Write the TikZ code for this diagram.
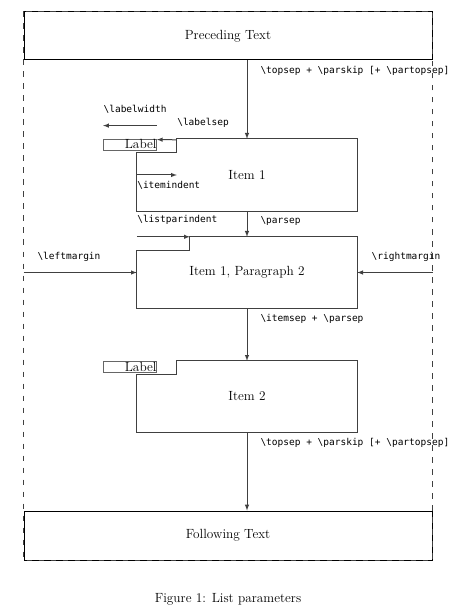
\documentclass[tikz,border=0pt]{standalone}
\usepackage{fontspec}
\setmonofont{DejaVu Sans Mono}
\usetikzlibrary{positioning}

\tikzset{
  txt/.style={font=\fontsize{13.3}{16}\selectfont},
  textbox/.style={txt,draw=black,line width=1pt,minimum width=408pt,inner sep=0pt},
  itembox/.style={txt,minimum width=220pt,minimum height=71pt,inner sep=0pt},
  labelbox/.style={txt,draw=black!60,line width=0.8pt,minimum height=11pt,text width=53pt,
    align=right,inner sep=0pt,text height=9pt,text depth=0pt},
  outline/.style={draw=black!75,line width=1pt},
  arr/.style={->,>=latex,draw=black!75,line width=1pt},
  lbl/.style={font=\fontsize{9.5}{11}\selectfont\ttfamily,inner sep=0pt}
}

\begin{document}
\begin{tikzpicture}[x=1pt,y=-1pt]
  \useasboundingbox (0,0) rectangle (473,609);
  \node[textbox,minimum height=48pt] (prec) at (228,36)    {Preceding Text};
  \node[textbox,minimum height=49pt] (foll) at (228,535.5) {Following Text};
  \node[itembox,minimum height=72pt] (item1) at (247,175) {Item 1};
  \node[itembox] (par2)  at (247,272.5) {Item 1, Paragraph 2};
  \node[itembox] (item2) at (247,396.5) {Item 2};
  \node[labelbox] (lab1) at (130,144.5) {Label};
  \node[labelbox] (lab2) at (130,366.5) {Label};
  \node[txt] (cap) at (228,599) {Figure 1: List parameters};
  % outer frame
  \draw[dashed,dash pattern=on 5.5pt off 6.5pt,draw=black!75,line width=1pt]
    (prec.north west) rectangle (foll.south east);
  % item outlines with label notch
  \coordinate (n1) at ([xshift=40pt]item1.north west);
  \coordinate (n2) at ([xshift=53pt]par2.north west);
  \coordinate (n3) at ([xshift=40pt]item2.north west);
  \draw[outline] (n1) -- (item1.north east) -- (item1.south east) -- (item1.south west)
    -- ([yshift=-14pt]item1.north west) -- ([yshift=-14pt]n1) -- cycle;
  \draw[outline] (n2) -- (par2.north east) -- (par2.south east) -- (par2.south west)
    -- ([yshift=-14pt]par2.north west) -- ([yshift=-14pt]n2) -- cycle;
  \draw[outline] (n3) -- (item2.north east) -- (item2.south east) -- (item2.south west)
    -- ([yshift=-14pt]item2.north west) -- ([yshift=-14pt]n3) -- cycle;
  % vertical spacing
  \draw[arr] (item1.north |- prec.south) -- (item1.north)
    node[lbl,pos=0.133,right=13pt] {\textbackslash topsep + \textbackslash parskip [+ \textbackslash partopsep]};
  \draw[arr] (item1.south) -- (par2.north)
    node[lbl,pos=0.365,right=13pt] {\textbackslash parsep};
  \draw[arr] (par2.south) -- (item2.north)
    node[lbl,pos=0.21,right=13pt] {\textbackslash itemsep + \textbackslash parsep};
  \draw[arr] (item2.south) -- (item2.south |- foll.north)
    node[lbl,pos=0.14,right=13pt] {\textbackslash topsep + \textbackslash parskip [+ \textbackslash partopsep]};
  % horizontal spacing
  \draw[arr] (prec.west |- par2.west) -- (par2.west)
    node[lbl,pos=0,anchor=west,xshift=13.5pt,yshift=15.5pt] {\textbackslash leftmargin};
  \draw[arr] (prec.east |- par2.east) -- (par2.east)
    node[lbl,pos=1,anchor=west,xshift=14pt,yshift=15.5pt] {\textbackslash rightmargin};
  \draw[arr] ([yshift=13pt]lab1.north east) -- ([yshift=13pt]lab1.north west)
    node[lbl,pos=1,anchor=west,yshift=16.5pt] {\textbackslash labelwidth};
  \draw[arr] ([yshift=-1pt]n1) -- ([yshift=-1pt]lab1.north east)
    node[lbl,pos=0,anchor=west,yshift=17pt] {\textbackslash labelsep};
  \draw[arr] (item1.west) -- (item1.west -| n1)
    node[lbl,pos=0,anchor=west,yshift=-10.5pt] {\textbackslash itemindent};
  \draw[arr] (par2.north west) -- (n2)
    node[lbl,pos=0,anchor=west,yshift=16.5pt] {\textbackslash listparindent};
\end{tikzpicture}
\end{document}
